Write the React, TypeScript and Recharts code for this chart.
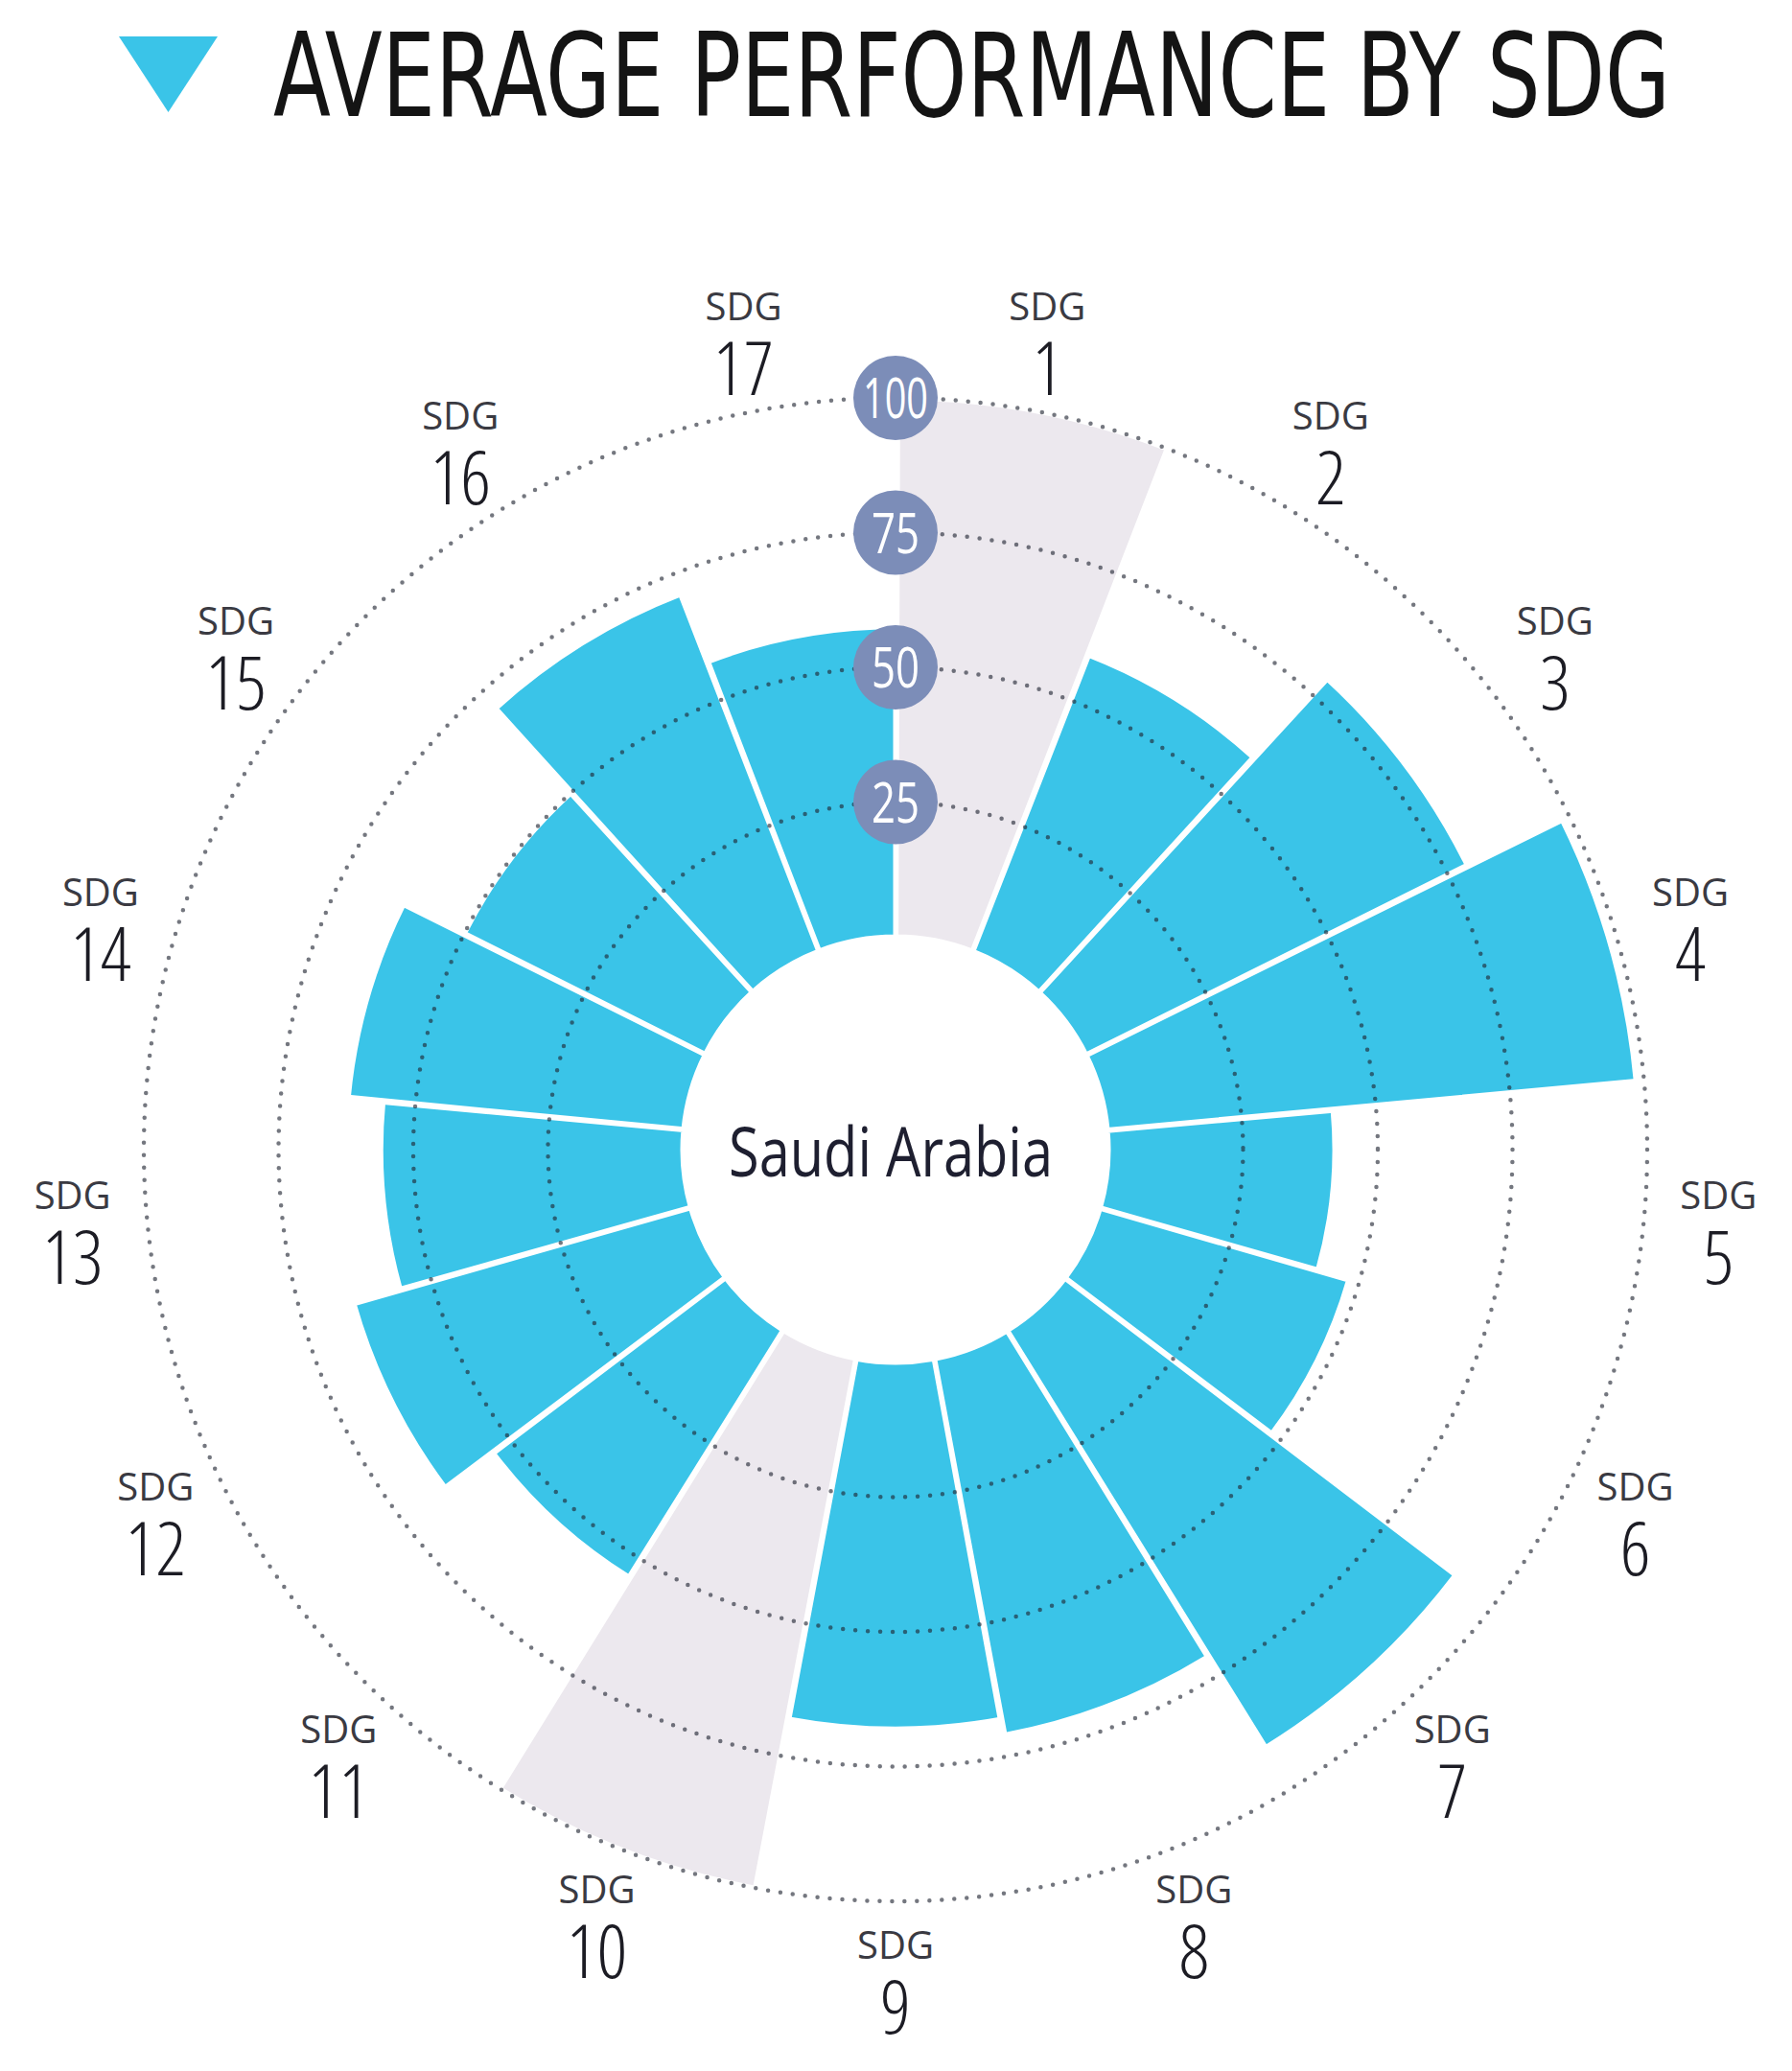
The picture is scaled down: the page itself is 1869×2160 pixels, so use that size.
import React from "react";
import {
  RadialBarChart,
  RadialBar,
  PolarAngleAxis,
  PolarRadiusAxis,
  PolarGrid,
  Cell,
} from "recharts";

// ---- data ----
const goals: string[] = ["1", "2", "3", "4", "5", "6", "7", "8", "9", "10", "11", "12", "13", "14", "15", "16", "17"];
const scores: number[] = [100, 59, 79, 98.5, 42, 48, 91, 71, 68, 100, 54, 65, 56, 62.5, 50, 71, 57.5];
const noDataGoals: string[] = ["1", "10"];
const ringTicks: number[] = [25, 50, 75, 100];
const countryName = "Saudi Arabia";
const titleText = "AVERAGE PERFORMANCE BY SDG";

const BLUE = "#3AC4E8";
const GREY = "#ECE8EE";

const chartData = goals.map((g, i) => ({ name: g, value: scores[i] }));

// geometry
const W = 1869;
const H = 2160;
const CX = 934;
const CY = 1199;
const INNER = 222;
const OUTER = 784;
const LABEL_R = 862;
const BAND = 360 / goals.length;
// Recharts draws each centric bar from its band start counter-clockwise,
// so the chart start is shifted one band so SDG 1 begins at 12 o'clock.
const START = 90 - BAND;
const END = START - 360;
const RAD = Math.PI / 180;

const AngleTick = (props: any) => {
  const { payload } = props;
  const a = (payload.coordinate + BAND / 2) * RAD;
  const x = CX + LABEL_R * Math.cos(-a);
  const y = CY + LABEL_R * Math.sin(-a);
  return (
    <g>
      <text
        x={x}
        y={y - 18}
        textAnchor="middle"
        fill="#3a3a42"
        fontSize={40}
        fontFamily="'Open Sans', 'Noto Sans', sans-serif"
      >
        SDG
      </text>
      <text
        x={x}
        y={y + 60}
        textAnchor="middle"
        fill="#1c1c24"
        fontSize={78}
        fontWeight={300}
        fontFamily="'Open Sans', 'Noto Sans', sans-serif"
        style={{ fontStretch: "condensed" }}
      >
        {payload.value}
      </text>
    </g>
  );
};

const RadiusTick = (props: any) => {
  const { x, y, payload } = props;
  const label = String(payload.value);
  return (
    <g>
      <circle cx={x} cy={y} r={44} fill="#7C8DB8" />
      <text
        x={x}
        y={y + 21}
        textAnchor="middle"
        fill="#ffffff"
        fontSize={58}
        textLength={label.length > 2 ? 68 : 50}
        lengthAdjust="spacingAndGlyphs"
        fontFamily="'Open Sans', 'Noto Sans', sans-serif"
      >
        {label}
      </text>
    </g>
  );
};

const commonChartProps = {
  width: W,
  height: H,
  cx: CX,
  cy: CY,
  innerRadius: INNER,
  outerRadius: OUTER,
  data: chartData,
  layout: "centric" as const,
  startAngle: START,
  endAngle: END,
  barCategoryGap: 0,
  barGap: 0,
  margin: { top: 0, right: 0, bottom: 0, left: 0 },
};

export default function App() {
  return (
    <div style={{ position: "absolute", left: 0, top: 0, width: W, height: H, background: "#fff" }}>
      <svg width={W} height={200} style={{ position: "absolute", left: 0, top: 0 }}>
        <polygon points="124,38 227,38 175.5,117" fill={BLUE} />
        <text
          x={285}
          y={121}
          fontSize={121}
          fill="#141414"
          textLength={1457}
          lengthAdjust="spacingAndGlyphs"
          fontFamily="'Liberation Sans Narrow', 'DejaVu Sans Condensed', 'Liberation Sans', sans-serif"
        >
          {titleText}
        </text>
      </svg>

      {/* bars and category labels */}
      <div style={{ position: "absolute", left: 0, top: 0 }}>
        <RadialBarChart {...commonChartProps}>
          <PolarAngleAxis
            type="category"
            dataKey="name"
            axisLine={false}
            tickLine={false}
            tick={<AngleTick />}
          />
          <PolarRadiusAxis
            type="number"
            domain={[0, 100]}
            angle={90}
            ticks={ringTicks}
            axisLine={false}
            tick={false}
          />
          <RadialBar dataKey="value" isAnimationActive={false} stroke="#ffffff" strokeWidth={5}>
            {chartData.map((d) => (
              <Cell key={d.name} fill={noDataGoals.includes(d.name) ? GREY : BLUE} />
            ))}
          </RadialBar>
        </RadialBarChart>
      </div>

      {/* dotted rings and value badges drawn over the bars */}
      <div style={{ position: "absolute", left: 0, top: 0 }}>
        <RadialBarChart {...commonChartProps}>
          <PolarAngleAxis type="category" dataKey="name" axisLine={false} tickLine={false} tick={false} />
          <PolarGrid
            gridType="circle"
            radialLines={false}
            stroke="#1e2430"
            strokeOpacity={0.62}
            strokeWidth={4.5}
            strokeDasharray="0 13"
            strokeLinecap="round"
          />
          <RadialBar
            dataKey="value"
            isAnimationActive={false}
            fill="transparent"
            fillOpacity={0}
            stroke="none"
          />
          <PolarRadiusAxis
            type="number"
            domain={[0, 100]}
            angle={90}
            ticks={ringTicks}
            axisLine={false}
            tick={<RadiusTick />}
          />
          <text
            x={929}
            y={1227}
            textAnchor="middle"
            fontSize={72}
            fill="#1e1f30"
            textLength={338}
            lengthAdjust="spacingAndGlyphs"
            fontFamily="'Open Sans', 'Noto Sans', sans-serif"
          >
            {countryName}
          </text>
        </RadialBarChart>
      </div>
    </div>
  );
}
